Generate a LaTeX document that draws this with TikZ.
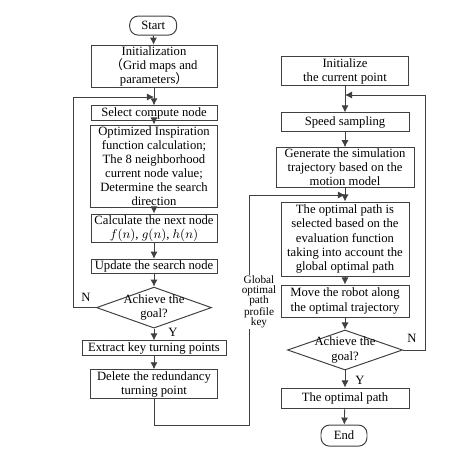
\documentclass[tikz,border=0pt]{standalone}
\usepackage{fontspec}
\setmainfont{Liberation Serif}
\newfontfamily\cjk{Noto Sans CJK SC}
\usetikzlibrary{positioning,calc,arrows.meta,shapes.geometric}

\tikzset{
  stepbox/.style={rectangle,draw=black!75,line width=0.7pt,inner sep=1pt,align=center,font=\fontsize{9}{10}\selectfont},
  termbox/.style={stepbox,rounded corners=6pt},
  choice/.style={diamond,draw=black!75,line width=0.7pt,inner sep=-3pt,aspect=2.8,align=center,font=\fontsize{9}{10}\selectfont},
  flow/.style={draw=black!75,line width=0.6pt,-{Latex[length=5pt,width=5pt]}},
  link/.style={draw=black!75,line width=0.6pt},
  tag/.style={font=\fontsize{9}{10}\selectfont,inner sep=0pt}
}

\begin{document}
\begin{tikzpicture}
        \useasboundingbox (0,0) rectangle (11.85,-11.85);

        % left column: global planner
        \node[termbox,minimum width=1.175cm,minimum height=0.475cm] (start) at (3.83,-0.64) {Start};
        \node[stepbox,minimum width=3.15cm,minimum height=1.025cm] (init) at (3.85,-1.66) {Initialization\\{\cjk （}Grid maps and\\parameters{\cjk ）}};
        \node[stepbox,minimum width=3.15cm,minimum height=0.35cm] (select) at (3.85,-2.825) {Select compute node};
        \node[stepbox,minimum width=3.175cm,minimum height=1.8cm] (inspire) at (3.85,-4.15) {Optimized Inspiration\\function calculation;\\The 8 neighborhood\\current node value;\\Determine the search\\direction};
        \node[stepbox,minimum width=3.15cm,minimum height=0.675cm] (calc) at (3.85,-5.71) {Calculate the next node\\$f(n)$, $g(n)$, $h(n)$};
        \node[stepbox,minimum width=3.15cm,minimum height=0.325cm] (update) at (3.85,-6.66) {Update the search node};
        \node[choice,minimum width=2.875cm,minimum height=1.025cm] (ldec) at (3.85,-7.69) {Achieve the\\goal?};
        \node[stepbox,minimum width=3.6cm,minimum height=0.375cm] (extract) at (3.85,-8.71) {Extract key turning points};
        \node[stepbox,minimum width=3.175cm,minimum height=0.65cm] (prune) at (3.85,-9.6) {Delete the redundancy\\turning point};

        % right column: local planner
        \node[stepbox,minimum width=3.175cm,minimum height=0.7cm] (rinit) at (8.625,-1.775) {Initialize\\the current point};
        \node[stepbox,minimum width=3.2cm,minimum height=0.475cm] (speed) at (8.625,-3.06) {Speed sampling};
        \node[stepbox,minimum width=3.45cm,minimum height=0.975cm] (gen) at (8.625,-4.19) {Generate the simulation\\trajectory based on the\\motion model};
        \node[stepbox,minimum width=3.2cm,minimum height=1.85cm] (evalsel) at (8.625,-5.975) {The optimal path is\\selected based on the\\evaluation function\\taking into account the\\global optimal path};
        \node[stepbox,minimum width=3.2cm,minimum height=0.8cm] (move) at (8.625,-7.525) {Move the robot along\\the optimal trajectory};
        \node[choice,minimum width=2.875cm,minimum height=1.0cm] (rdec) at (8.625,-8.75) {Achieve the\\goal?};
        \node[stepbox,minimum width=3.2cm,minimum height=0.5cm] (result) at (8.625,-9.95) {The optimal path};
        \node[termbox,minimum width=1.15cm,minimum height=0.525cm] (end) at (8.6,-10.89) {End};

        % loop and hand-over points
        \coordinate (ljoin) at (3.85,-2.425);
        \coordinate (lback) at (1.825,-2.425);
        \coordinate (rjoin) at (8.625,-2.375);
        \coordinate (rback) at (10.625,-2.375);
        \coordinate (lcorner) at (6.225,-10.625);
        \coordinate (lturn) at (6.225,-4.875);
        \coordinate (hand) at (8.625,-4.875);

        \draw[flow] (start) -- (init);
        \draw[flow] (init) -- (select);
        \draw[flow] (select) -- (inspire);
        \draw[flow] (inspire) -- (calc);
        \draw[flow] (calc) -- (update);
        \draw[flow] (update) -- (ldec);
        \draw[flow] (ldec) -- (extract);
        \draw[flow] (extract) -- (prune);
        \draw[flow] (ldec.west) -| (lback) -- (ljoin);
        \draw[flow] (prune.south) |- (lcorner) -- (lturn) -- (hand);

        \draw[flow] (rinit) -- (speed);
        \draw[flow] (speed) -- (gen);
        \draw[flow] (gen) -- (evalsel);
        \draw[flow] (evalsel) -- (move);
        \draw[flow] (move) -- (rdec);
        \draw[flow] (rdec) -- (result);
        \draw[flow] (result) -- (end);
        \draw[flow] (rdec.east) -| (rback) -- (rjoin);

        \node[tag] (ln) at (2.15,-7.425) {N};
        \node[tag] (ly) at (4.325,-8.3) {Y};
        \node[tag] (rn) at (10.3,-8.45) {N};
        \node[tag] (ry) at (9.0,-9.5) {Y};
        \node[fill=white,inner sep=0.5pt,align=center,font=\fontsize{8}{7.3}\selectfont] (profile) at (6.475,-7.55) {Global\\optimal\\path\\profile\\key};
\end{tikzpicture}
\end{document}
